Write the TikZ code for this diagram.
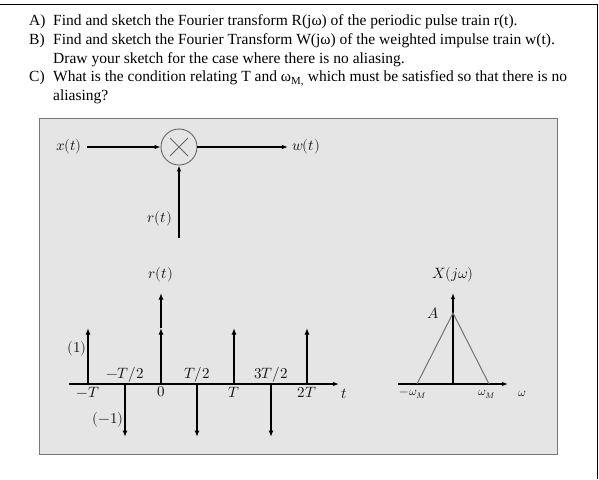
\documentclass[tikz,border=0pt]{standalone}
\usepackage{fontspec}
\setmainfont{Liberation Serif}
\usepackage{unicode-math}
\setmathfont{Latin Modern Math}
\usetikzlibrary{arrows.meta,calc}
\definecolor{panelgray}{HTML}{E5E5E5}
\definecolor{panelline}{HTML}{777777}
\definecolor{inkgray}{HTML}{111111}
\tikzset{
  qtext/.style={anchor=base west, inner sep=0pt, font=\fontsize{15.5}{17}\selectfont},
  lab/.style={inner sep=0pt, text=inkgray, font=\fontsize{15}{17}\selectfont},
  small/.style={font=\fontsize{12}{14}\selectfont},
  sig/.style={line width=1.1pt, draw=black, -{Latex[length=6pt,width=4.5pt]}},
  stem/.style={line width=1.5pt, draw=black, -{Latex[length=6.5pt,width=5pt]}},
  ax/.style={line width=1.1pt, draw=black, -{Latex[length=6pt,width=4.5pt]}},
}
\begin{document}
\begin{tikzpicture}[x=1pt,y=-1pt]
\useasboundingbox (0,0) rectangle (599,479);
% frame of the cell
\draw[line width=1pt] (0,4) -- (597.5,4) -- (597.5,479);
% question text
\node[qtext] (la) at (29,25) {A)};
\node[qtext] (ta) at (53,25) {Find and sketch the Fourier transform R(jω) of the periodic pulse train r(t).};
\node[qtext] (lb) at (29,44) {B)};
\node[qtext] (tb) at (53,44) {Find and sketch the Fourier Transform W(jω) of the weighted impulse train w(t).};
\node[qtext] (tb2) at (53,63) {Draw your sketch for the case where there is no aliasing.};
\node[qtext] (lc) at (29,81) {C)};
\node[qtext] (tc) at (53,81) {What is the condition relating T and ω\textsubscript{M,} which must be satisfied so that there is no};
\node[qtext] (tc2) at (53,100) {aliasing?};
% panel
\draw[panelline, fill=panelgray, line width=1pt] (39,118) rectangle (557,454);
% block diagram
\node[lab] (x) at (69,147) {$x(t)$};
\node[circle, draw=black!60, fill=panelgray, line width=0.9pt, minimum size=36pt, inner sep=0pt] (mul) at (179,147) {};
\draw[black!60, line width=0.9pt] ($(mul.center)+(-9,-9)$) -- ($(mul.center)+(9,9)$);
\draw[black!60, line width=0.9pt] ($(mul.center)+(-9,9)$) -- ($(mul.center)+(9,-9)$);
\node[lab] (w) at (306,147) {$w(t)$};
\coordinate (rin) at (179,238);
\node[lab] (rlab) at (160,219) {$r(t)$};
\coordinate (xs) at ($(x.east)+(5,0)$);
\coordinate (we) at ($(w.west)+(-4,0)$);
\draw[sig] (xs) -- (mul.west);
\draw[sig] (mul.east) -- (we);
\draw[sig] (rin) -- (mul.south);
% r(t) stem plot
\coordinate (ts) at (69,384);
\coordinate (tend) at (339,384);
\draw[ax] (ts) -- (tend);
\node[lab] (tl) at (344,394) {$t$};
\node[lab] (rt) at (161,275) {$r(t)$};
\foreach \n/\xx in {mT/88,z/161,pT/234,tT/307}{
  \coordinate (b\n) at (\xx,384);
  \coordinate (u\n) at (\xx,328);
  \draw[stem] (b\n) -- (u\n);
}
\coordinate (ztop) at (161,293);
\draw[stem] (uz) -- (ztop);
\foreach \n/\xx in {mh/125,ph/197,th/271}{
  \coordinate (b\n) at (\xx,384);
  \coordinate (d\n) at (\xx,437);
  \draw[stem] (b\n) -- (d\n);
}
\node[lab, anchor=east] (one) at (87,349) {$(1)$};
\node[lab, anchor=east] (mone) at (124,420) {$(-1)$};
\node[lab] (lmh) at (125,375) {$-T/2$};
\node[lab] (lph) at (197,375) {$T/2$};
\node[lab] (lth) at (271,375) {$3T/2$};
\node[lab] (lmT) at (88,392) {$-T$};
\node[lab] (lz) at (161,392) {$0$};
\node[lab] (lpT) at (234,392) {$T$};
\node[lab] (ltT) at (307,392) {$2T$};
% X(jw)
\coordinate (xl) at (398,384);
\coordinate (xr) at (508,384);
\coordinate (xo) at (453,384);
\coordinate (xt) at (453,293);
\draw[ax] (xl) -- (xr);
\draw[line width=1.5pt, -{Latex[length=6pt,width=4.5pt]}] (xo) -- (xt);
\coordinate (pk) at (453,313);
\coordinate (bl) at (417,384);
\coordinate (br) at (489,384);
\draw[black!55, line width=1pt] (bl) -- (pk) -- (br);
\node[lab] (XJ) at (453,275) {$X(j\omega)$};
\node[lab] (A) at (433,313) {$A$};
\node[lab, small] (wml) at (413,394) {$-\omega_M$};
\node[lab, small] (wmr) at (487,394) {$\omega_M$};
\node[lab, small] (wl) at (522,394) {$\omega$};
\end{tikzpicture}
\end{document}
